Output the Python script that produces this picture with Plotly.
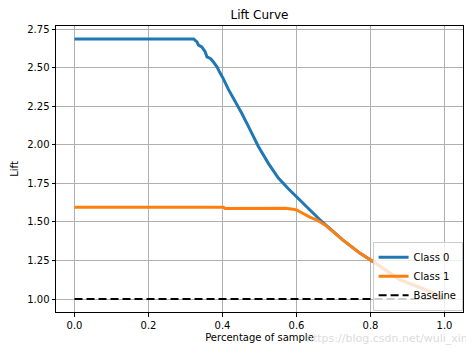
import plotly.graph_objects as go

# Data
pct_class0 = [0.0, 0.322, 0.331, 0.335, 0.344, 0.353, 0.358, 0.367, 0.375, 0.385, 0.394,
              0.402, 0.416, 0.434, 0.452, 0.470, 0.497, 0.524, 0.551, 0.578, 0.596, 0.623,
              0.650, 0.668, 0.725, 0.771, 0.816, 0.879, 0.960, 1.0]
lift_class0 = [2.687, 2.687, 2.668, 2.647, 2.636, 2.604, 2.571, 2.561, 2.539, 2.506, 2.464,
               2.430, 2.360, 2.285, 2.205, 2.120, 1.990, 1.880, 1.785, 1.715, 1.672, 1.608,
               1.546, 1.503, 1.384, 1.298, 1.229, 1.125, 1.049, 1.0]

pct_class1 = [0.0, 0.402, 0.407, 0.569, 0.591, 0.600, 0.613, 0.636, 0.654, 0.677, 0.725,
              0.771, 0.816, 0.879, 0.960, 1.0]
lift_class1 = [1.595, 1.595, 1.588, 1.589, 1.583, 1.578, 1.561, 1.531, 1.514, 1.481, 1.384,
               1.298, 1.229, 1.125, 1.049, 1.0]

pct_baseline = [0.0, 1.0]
lift_baseline = [1.0, 1.0]

x_ticks = [0.0, 0.2, 0.4, 0.6, 0.8, 1.0]
x_tick_labels = ["0.0", "0.2", "0.4", "0.6", "0.8", "1.0"]
y_ticks = [1.00, 1.25, 1.50, 1.75, 2.00, 2.25, 2.50, 2.75]
y_tick_labels = ["1.00", "1.25", "1.50", "1.75", "2.00", "2.25", "2.50", "2.75"]

FONT = "DejaVu Sans"

fig = go.Figure()
fig.add_trace(go.Scatter(x=pct_class0, y=lift_class0, mode="lines", name="Class 0",
                         line=dict(color="#1f77b4", width=3)))
fig.add_trace(go.Scatter(x=pct_class1, y=lift_class1, mode="lines", name="Class 1",
                         line=dict(color="#ff7f0e", width=3)))
fig.add_trace(go.Scatter(x=pct_baseline, y=lift_baseline, mode="lines", name="Baseline",
                         line=dict(color="black", width=2, dash="8px,4px")))

axis_common = dict(
    showgrid=True, gridcolor="#b0b0b0", gridwidth=1,
    showline=True, linecolor="black", linewidth=1, mirror=True,
    ticks="outside", ticklen=3.5, tickcolor="black", tickwidth=1,
    zeroline=False, automargin=False,
    tickfont=dict(family=FONT, size=10, color="black"),
)

# the page body adds an 8px offset, so the figure is 8px smaller
fig.update_layout(
    width=466, height=347, autosize=False,
    margin=dict(l=48, r=11, t=18, b=43),
    paper_bgcolor="white", plot_bgcolor="white",
    font=dict(family=FONT, size=10, color="black"),
    title=dict(text="Lift Curve", x=0.5397, xanchor="center", y=0.980, yanchor="middle",
               font=dict(family=FONT, size=12, color="black")),
    xaxis=dict(range=[-0.05, 1.05], tickvals=x_ticks, ticktext=x_tick_labels,
               title=dict(text="Percentage of sample", standoff=4,
                          font=dict(family=FONT, size=10, color="black")),
               **axis_common),
    yaxis=dict(range=[0.9158, 2.7712], tickvals=y_ticks, ticktext=y_tick_labels,
               title=dict(text="Lift", standoff=6,
                          font=dict(family=FONT, size=10, color="black")),
               **axis_common),
    legend=dict(x=0.999, y=0.004, xanchor="right", yanchor="bottom",
                bgcolor="rgba(255,255,255,0.8)", bordercolor="#cccccc", borderwidth=1,
                font=dict(family=FONT, size=10, color="black"),
                itemwidth=30, tracegroupgap=0),
    showlegend=True,
)

fig.add_annotation(text="https://blog.csdn.net/wuli_xin", xref="paper", yref="paper",
                   x=1.0, y=-0.091, xanchor="right", yanchor="middle", showarrow=False,
                   xshift=7,
                   font=dict(family=FONT, size=11, color="#dcdcdc"))

fig.write_html("out.html")
